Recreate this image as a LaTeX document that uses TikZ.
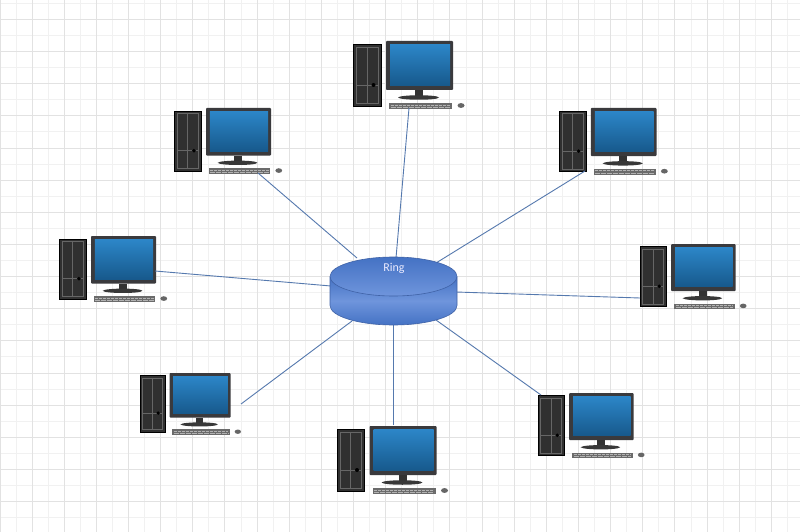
\documentclass[tikz,border=0pt]{standalone}
\usepackage{fontspec}
\newfontfamily\ringfont{Carlito}
\usetikzlibrary{arrows,positioning}

\definecolor{gridmajor}{HTML}{E2E2E2}
\definecolor{gridminor}{HTML}{F1F1F1}
\definecolor{linkblue}{HTML}{5579AE}
\definecolor{ringedge}{HTML}{3F62A6}
\definecolor{ringdark}{HTML}{4472C4}
\definecolor{ringlight}{HTML}{6F95DC}
\definecolor{casegrey}{HTML}{303030}
\definecolor{framegrey}{HTML}{3A3A3D}
\definecolor{trimgrey}{HTML}{666666}
\definecolor{screentop}{HTML}{2C86C8}
\definecolor{screenlow}{HTML}{17598C}

\tikzset{
  link/.style={draw=linkblue, line width=0.9pt},
  pcbox/.style={inner sep=0pt, minimum width=113pt, minimum height=68pt, transform shape},
  trim/.style={draw=trimgrey, line width=0.8pt},
  ringlabel/.style={text=white!92!blue, inner sep=0pt, font=\ringfont\fontsize{12}{12}\selectfont}
}

% tower, monitor, keyboard and mouse; 1 name, 2 left, 3 top, 4 scale
\newcommand{\computer}[4]{
\begin{scope}[shift={(#2,#3)}, scale=#4]
\node (#1) [pcbox] at (56.5,34) {};
\draw[black, fill=casegrey, line width=0.8pt] (0,3) rectangle (27.5,65);
\draw[trim] (3,6) rectangle (24.5,62.5);
\draw[trim] (13.7,6) -- (13.7,62.5);
\draw[trim] (3,44) -- (24.5,44);
\fill[black] (20,44) circle (2pt);
\fill[framegrey, rounded corners=0.8pt] (32.5,0) rectangle (99.5,49);
\shade[top color=screentop, bottom color=screenlow] (36.5,3.5) rectangle (96.5,44.5);
\fill[black!80] (61.5,49) rectangle (69.5,55);
\fill[black!78] (44.5,56.5) .. controls (47,53.5) and (84,53.5) .. (85.5,56.5)
  .. controls (84,59.5) and (47,59.5) .. (44.5,56.5);
\fill[black!58] (35.5,62) rectangle (98.5,68);
\draw[black!30, line width=0.6pt, dash pattern=on 3pt off 1pt] (37,64) -- (97,64);
\draw[black!30, line width=0.6pt, dash pattern=on 5pt off 1pt] (37,66.3) -- (97,66.3);
\fill[black!60] (107.5,64.5) ellipse (3.5pt and 2.4pt);
\end{scope}
}

\begin{document}
\begin{tikzpicture}[x=1pt,y=-1pt]
\useasboundingbox (0,0) rectangle (800,532);
\fill[white] (0,0) rectangle (800,532);

% background paper
\begin{scope}[shift={(0,3.4)}]
\draw[gridminor, line width=1pt, xstep=16.07pt, ystep=16.07pt] (0,-20) grid (810,540);
\end{scope}
\begin{scope}[shift={(0,19.5)}]
\draw[gridmajor, line width=1pt, xstep=32.14pt, ystep=32.14pt] (0,-40) grid (810,540);
\end{scope}

\computer{top}{353.5}{41}{1}
\computer{upleft}{174.5}{108}{0.97}
\computer{upright}{559}{108}{0.98}
\computer{left}{59.5}{236}{0.97}
\computer{right}{640}{244}{0.96}
\computer{lowleft}{140}{373}{0.91}
\computer{bottom}{337}{426}{1}
\computer{lowright}{538}{393}{0.96}

% ends of the links
\coordinate (topend) at (409,108);
\coordinate (upleftend) at (258,173);
\coordinate (uprightend) at (585,171);
\coordinate (leftend) at (155,271);
\coordinate (rightend) at (640,298);
\coordinate (lowleftend) at (241,404);
\coordinate (bottomend) at (393,425);
\coordinate (lowrightend) at (541,395);

\coordinate (ringtop) at (396,258);
\coordinate (ringupleft) at (357,258);
\coordinate (ringupright) at (436,263);
\coordinate (ringleft) at (331,286);
\coordinate (ringright) at (456,292);
\coordinate (ringlowleft) at (352,321);
\coordinate (ringbottom) at (393,325);
\coordinate (ringlowright) at (436,320);

\draw[link] (topend) -- (ringtop);
\draw[link] (upleftend) -- (ringupleft);
\draw[link] (uprightend) -- (ringupright);
\draw[link] (leftend) -- (ringleft);
\draw[link] (rightend) -- (ringright);
\draw[link] (lowleftend) -- (ringlowleft);
\draw[link] (bottomend) -- (ringbottom);
\draw[link] (lowrightend) -- (ringlowright);

% the ring
\shade[top color=ringdark, bottom color=ringdark, middle color=ringlight]
  (330,276.5) -- (330,305.5) arc[start angle=180, end angle=360, x radius=63.5, y radius=-19.5]
  -- (457,276.5) -- cycle;
\draw[ringedge, line width=0.6pt]
  (330,276.5) -- (330,305.5) arc[start angle=180, end angle=360, x radius=63.5, y radius=-19.5]
  -- (457,276.5);
\shade[top color=ringdark, bottom color=ringlight, draw=ringedge, line width=0.6pt]
  (393.5,276.5) ellipse (63.5 and 19.5);
\node (ring) [ringlabel] at (394,268) {Ring};
\end{tikzpicture}
\end{document}
